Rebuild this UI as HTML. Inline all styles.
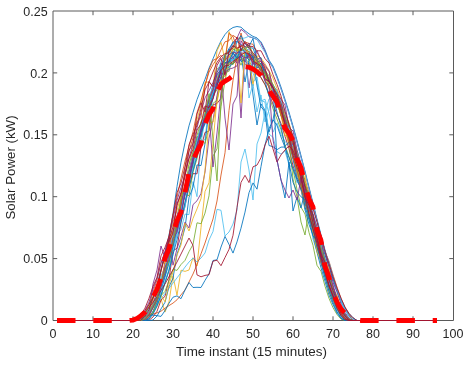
<!DOCTYPE html>
<html><head><meta charset="utf-8"><style>
html,body{margin:0;padding:0;background:#fff;}
svg{display:block;}
text{font-family:"Liberation Sans",Arial,sans-serif;font-size:12.5px;fill:#262626;}
.lab{font-size:13.45px;}
</style></head><body>
<svg width="471" height="367" viewBox="0 0 471 367">
<rect width="471" height="367" fill="#fff"/>
<g stroke="#5a5a5a" stroke-width="1" fill="none">
<path d="M53,320.5 V11 H453.5 V320.5 Z"/>
<line x1="93.0" y1="320.5" x2="93.0" y2="316.3"/>
<line x1="93.0" y1="11" x2="93.0" y2="15.2"/>
<line x1="133.0" y1="320.5" x2="133.0" y2="316.3"/>
<line x1="133.0" y1="11" x2="133.0" y2="15.2"/>
<line x1="173.0" y1="320.5" x2="173.0" y2="316.3"/>
<line x1="173.0" y1="11" x2="173.0" y2="15.2"/>
<line x1="213.0" y1="320.5" x2="213.0" y2="316.3"/>
<line x1="213.0" y1="11" x2="213.0" y2="15.2"/>
<line x1="253.0" y1="320.5" x2="253.0" y2="316.3"/>
<line x1="253.0" y1="11" x2="253.0" y2="15.2"/>
<line x1="293.0" y1="320.5" x2="293.0" y2="316.3"/>
<line x1="293.0" y1="11" x2="293.0" y2="15.2"/>
<line x1="333.0" y1="320.5" x2="333.0" y2="316.3"/>
<line x1="333.0" y1="11" x2="333.0" y2="15.2"/>
<line x1="373.0" y1="320.5" x2="373.0" y2="316.3"/>
<line x1="373.0" y1="11" x2="373.0" y2="15.2"/>
<line x1="413.0" y1="320.5" x2="413.0" y2="316.3"/>
<line x1="413.0" y1="11" x2="413.0" y2="15.2"/>
<line x1="53" y1="258.60" x2="57.2" y2="258.60"/>
<line x1="453.5" y1="258.60" x2="449.3" y2="258.60"/>
<line x1="53" y1="196.70" x2="57.2" y2="196.70"/>
<line x1="453.5" y1="196.70" x2="449.3" y2="196.70"/>
<line x1="53" y1="134.80" x2="57.2" y2="134.80"/>
<line x1="453.5" y1="134.80" x2="449.3" y2="134.80"/>
<line x1="53" y1="72.90" x2="57.2" y2="72.90"/>
<line x1="453.5" y1="72.90" x2="449.3" y2="72.90"/>
</g>
<g fill="none" stroke-width="1" stroke-linejoin="round" stroke-opacity="0.85">
<polyline points="57.0,320.5 61.0,320.5 65.0,320.5 69.0,320.5 73.0,320.5 77.0,320.5 81.0,320.5 85.0,320.5 89.0,320.5 93.0,320.5 97.0,320.5 101.0,320.5 105.0,320.5 109.0,320.5 113.0,320.5 117.0,320.5 121.0,320.5 125.0,320.5 129.0,320.5 133.0,320.5 137.0,320.5 141.0,319.5 145.0,314.3 149.0,307.5 153.0,297.8 157.0,284.6 161.0,269.3 165.0,252.8 169.0,235.1 173.0,213.5 177.0,186.6 181.0,162.2 185.0,142.6 189.0,125.8 193.0,112.5 197.0,99.6 201.0,89.0 205.0,79.3 209.0,68.2 213.0,58.8 217.0,49.3 221.0,40.9 225.0,34.5 229.0,30.1 233.0,27.5 237.0,26.5 241.0,27.2 245.0,30.8 249.0,33.8 253.0,36.4 257.0,37.9 261.0,41.9 265.0,49.9 269.0,60.1 273.0,66.1 277.0,76.1 281.0,87.2 285.0,99.3 289.0,112.2 293.0,126.0 297.0,140.5 301.0,155.6 305.0,171.2 309.0,187.1 313.0,203.1 317.0,219.1 321.0,234.8 325.0,250.0 329.0,264.5 333.0,278.0 337.0,290.3 341.0,301.0 345.0,309.7 349.0,316.1 353.0,319.8 357.0,320.5 361.0,320.5 365.0,320.5 369.0,320.5 373.0,320.5 377.0,320.5 381.0,320.5 385.0,320.5 389.0,320.5 393.0,320.5 397.0,320.5 401.0,320.5 405.0,320.5 409.0,320.5 413.0,320.5 417.0,320.5 421.0,320.5 425.0,320.5 429.0,320.5 433.0,320.5 437.0,320.5" stroke="#0072BD"/>
<polyline points="57.0,320.5 61.0,320.5 65.0,320.5 69.0,320.5 73.0,320.5 77.0,320.5 81.0,320.5 85.0,320.5 89.0,320.5 93.0,320.5 97.0,320.5 101.0,320.5 105.0,320.5 109.0,320.5 113.0,320.5 117.0,320.5 121.0,320.5 125.0,320.5 129.0,320.5 133.0,320.5 137.0,320.5 141.0,320.5 145.0,320.5 149.0,318.7 153.0,312.4 157.0,305.2 161.0,296.8 165.0,282.7 169.0,269.7 173.0,247.0 177.0,231.8 181.0,218.6 185.0,203.1 189.0,181.7 193.0,155.9 197.0,144.4 201.0,125.7 205.0,115.9 209.0,112.7 213.0,95.5 217.0,69.0 221.0,66.3 225.0,70.4 229.0,71.4 233.0,54.2 237.0,56.7 241.0,57.9 245.0,60.1 249.0,61.8 253.0,66.4 257.0,70.3 261.0,77.4 265.0,84.3 269.0,95.1 273.0,108.7 277.0,119.1 281.0,129.7 285.0,145.1 289.0,156.4 293.0,169.0 297.0,189.4 301.0,207.3 305.0,214.0 309.0,232.5 313.0,245.3 317.0,265.3 321.0,271.3 325.0,286.2 329.0,298.4 333.0,307.7 337.0,314.5 341.0,319.1 345.0,320.5 349.0,320.5 353.0,320.5 357.0,320.5 361.0,320.5 365.0,320.5 369.0,320.5 373.0,320.5 377.0,320.5 381.0,320.5 385.0,320.5 389.0,320.5 393.0,320.5 397.0,320.5 401.0,320.5 405.0,320.5 409.0,320.5 413.0,320.5 417.0,320.5 421.0,320.5 425.0,320.5 429.0,320.5 433.0,320.5 437.0,320.5" stroke="#77AC30"/>
<polyline points="57.0,320.5 61.0,320.5 65.0,320.5 69.0,320.5 73.0,320.5 77.0,320.5 81.0,320.5 85.0,320.5 89.0,320.5 93.0,320.5 97.0,320.5 101.0,320.5 105.0,320.5 109.0,320.5 113.0,320.5 117.0,320.5 121.0,320.5 125.0,320.5 129.0,320.5 133.0,320.5 137.0,320.5 141.0,320.5 145.0,318.8 149.0,317.3 153.0,313.1 157.0,306.7 161.0,298.8 165.0,312.1 169.0,301.7 173.0,275.9 177.0,295.3 181.0,270.2 185.0,271.4 189.0,270.0 193.0,257.7 197.0,265.9 201.0,227.6 205.0,191.5 209.0,182.8 213.0,143.3 217.0,98.4 221.0,76.2 225.0,76.5 229.0,67.7 233.0,61.4 237.0,59.0 241.0,57.3 245.0,64.6 249.0,64.0 253.0,62.2 257.0,69.0 261.0,70.3 265.0,79.7 269.0,81.2 273.0,91.1 277.0,98.3 281.0,110.6 285.0,125.1 289.0,139.0 293.0,147.5 297.0,164.0 301.0,181.9 305.0,193.4 309.0,204.1 313.0,218.6 317.0,235.7 321.0,249.8 325.0,267.5 329.0,280.4 333.0,293.2 337.0,303.2 341.0,310.8 345.0,317.2 349.0,320.3 353.0,320.5 357.0,320.5 361.0,320.5 365.0,320.5 369.0,320.5 373.0,320.5 377.0,320.5 381.0,320.5 385.0,320.5 389.0,320.5 393.0,320.5 397.0,320.5 401.0,320.5 405.0,320.5 409.0,320.5 413.0,320.5 417.0,320.5 421.0,320.5 425.0,320.5 429.0,320.5 433.0,320.5 437.0,320.5" stroke="#EDB120"/>
<polyline points="57.0,320.5 61.0,320.5 65.0,320.5 69.0,320.5 73.0,320.5 77.0,320.5 81.0,320.5 85.0,320.5 89.0,320.5 93.0,320.5 97.0,320.5 101.0,320.5 105.0,320.5 109.0,320.5 113.0,320.5 117.0,320.5 121.0,320.5 125.0,320.5 129.0,320.5 133.0,320.5 137.0,320.5 141.0,318.7 145.0,316.5 149.0,308.7 153.0,305.4 157.0,302.2 161.0,275.0 165.0,268.9 169.0,248.4 173.0,250.0 177.0,234.8 181.0,229.5 185.0,214.1 189.0,214.6 193.0,181.6 197.0,196.7 201.0,143.7 205.0,138.8 209.0,104.7 213.0,83.7 217.0,72.8 221.0,61.5 225.0,54.1 229.0,51.5 233.0,53.1 237.0,49.8 241.0,54.9 245.0,52.0 249.0,53.3 253.0,57.2 257.0,60.7 261.0,67.0 265.0,79.8 269.0,78.6 273.0,87.8 277.0,91.5 281.0,107.5 285.0,122.1 289.0,132.3 293.0,147.3 297.0,164.5 301.0,181.2 305.0,200.9 309.0,211.1 313.0,222.9 317.0,247.4 321.0,260.0 325.0,271.5 329.0,285.5 333.0,297.1 337.0,307.9 341.0,314.7 345.0,319.2 349.0,320.5 353.0,320.5 357.0,320.5 361.0,320.5 365.0,320.5 369.0,320.5 373.0,320.5 377.0,320.5 381.0,320.5 385.0,320.5 389.0,320.5 393.0,320.5 397.0,320.5 401.0,320.5 405.0,320.5 409.0,320.5 413.0,320.5 417.0,320.5 421.0,320.5 425.0,320.5 429.0,320.5 433.0,320.5 437.0,320.5" stroke="#4DBEEE"/>
<polyline points="57.0,320.5 61.0,320.5 65.0,320.5 69.0,320.5 73.0,320.5 77.0,320.5 81.0,320.5 85.0,320.5 89.0,320.5 93.0,320.5 97.0,320.5 101.0,320.5 105.0,320.5 109.0,320.5 113.0,320.5 117.0,320.5 121.0,320.5 125.0,320.5 129.0,320.5 133.0,320.5 137.0,320.5 141.0,320.5 145.0,320.5 149.0,320.2 153.0,317.0 157.0,311.3 161.0,300.1 165.0,296.3 169.0,279.4 173.0,250.7 177.0,248.3 181.0,222.5 185.0,205.8 189.0,186.7 193.0,173.6 197.0,173.8 201.0,147.4 205.0,132.4 209.0,131.2 213.0,104.8 217.0,103.5 221.0,98.4 225.0,63.4 229.0,60.3 233.0,64.0 237.0,60.2 241.0,59.7 245.0,61.2 249.0,64.1 253.0,67.4 257.0,73.2 261.0,77.8 265.0,84.7 269.0,93.2 273.0,104.3 277.0,114.3 281.0,123.4 285.0,136.4 289.0,148.7 293.0,165.7 297.0,179.4 301.0,189.1 305.0,203.5 309.0,216.0 313.0,231.6 317.0,246.7 321.0,260.7 325.0,275.6 329.0,284.6 333.0,296.7 337.0,305.2 341.0,312.7 345.0,317.8 349.0,320.3 353.0,320.5 357.0,320.5 361.0,320.5 365.0,320.5 369.0,320.5 373.0,320.5 377.0,320.5 381.0,320.5 385.0,320.5 389.0,320.5 393.0,320.5 397.0,320.5 401.0,320.5 405.0,320.5 409.0,320.5 413.0,320.5 417.0,320.5 421.0,320.5 425.0,320.5 429.0,320.5 433.0,320.5 437.0,320.5" stroke="#A2142F"/>
<polyline points="57.0,320.5 61.0,320.5 65.0,320.5 69.0,320.5 73.0,320.5 77.0,320.5 81.0,320.5 85.0,320.5 89.0,320.5 93.0,320.5 97.0,320.5 101.0,320.5 105.0,320.5 109.0,320.5 113.0,320.5 117.0,320.5 121.0,320.5 125.0,320.5 129.0,320.5 133.0,320.5 137.0,320.5 141.0,320.5 145.0,319.3 149.0,315.3 153.0,306.9 157.0,296.0 161.0,285.5 165.0,275.2 169.0,256.2 173.0,238.7 177.0,223.3 181.0,205.0 185.0,186.1 189.0,175.8 193.0,161.6 197.0,147.5 201.0,130.4 205.0,117.4 209.0,105.7 213.0,90.9 217.0,74.6 221.0,76.1 225.0,67.6 229.0,61.5 233.0,59.9 237.0,49.8 241.0,53.6 245.0,82.0 249.0,60.9 253.0,95.0 257.0,125.0 261.0,104.0 265.0,110.0 269.0,132.0 273.0,120.0 277.0,95.9 281.0,112.0 285.0,116.5 289.0,134.1 293.0,145.1 297.0,159.1 301.0,174.6 305.0,194.5 309.0,206.5 313.0,222.7 317.0,234.4 321.0,256.7 325.0,265.3 329.0,280.5 333.0,293.6 337.0,302.1 341.0,311.8 345.0,317.9 349.0,320.4 353.0,320.5 357.0,320.5 361.0,320.5 365.0,320.5 369.0,320.5 373.0,320.5 377.0,320.5 381.0,320.5 385.0,320.5 389.0,320.5 393.0,320.5 397.0,320.5 401.0,320.5 405.0,320.5 409.0,320.5 413.0,320.5 417.0,320.5 421.0,320.5 425.0,320.5 429.0,320.5 433.0,320.5 437.0,320.5" stroke="#0072BD"/>
<polyline points="57.0,320.5 61.0,320.5 65.0,320.5 69.0,320.5 73.0,320.5 77.0,320.5 81.0,320.5 85.0,320.5 89.0,320.5 93.0,320.5 97.0,320.5 101.0,320.5 105.0,320.5 109.0,320.5 113.0,320.5 117.0,320.5 121.0,320.5 125.0,320.5 129.0,320.5 133.0,320.5 137.0,320.5 141.0,317.8 145.0,315.0 149.0,311.9 153.0,307.6 157.0,303.2 161.0,298.7 165.0,293.5 169.0,288.3 173.0,283.1 177.0,277.9 181.0,272.6 185.0,267.1 189.0,262.0 193.0,258.0 197.0,262.0 201.0,258.0 205.0,253.0 209.0,240.0 213.0,231.5 217.0,209.3 221.0,210.3 225.0,236.0 229.0,232.0 233.0,224.0 237.0,210.0 241.0,162.0 245.0,149.0 249.0,170.0 253.0,200.0 257.0,144.0 261.0,133.0 265.0,112.0 269.0,99.0 273.0,96.0 277.0,100.0 281.0,112.0 285.0,123.5 289.0,135.0 293.0,147.0 297.0,160.0 301.0,173.3 305.0,186.7 309.0,200.0 313.0,213.3 317.0,226.7 321.0,240.5 325.0,254.5 329.0,268.5 333.0,281.0 337.0,292.5 341.0,302.5 345.0,309.5 349.0,314.9 353.0,318.6 357.0,320.5 361.0,320.5 365.0,320.5 369.0,320.5 373.0,320.5 377.0,320.5 381.0,320.5 385.0,320.5 389.0,320.5 393.0,320.5 397.0,320.5 401.0,320.5 405.0,320.5 409.0,320.5 413.0,320.5 417.0,320.5 421.0,320.5 425.0,320.5 429.0,320.5 433.0,320.5 437.0,320.5" stroke="#4DBEEE"/>
<polyline points="57.0,320.5 61.0,320.5 65.0,320.5 69.0,320.5 73.0,320.5 77.0,320.5 81.0,320.5 85.0,320.5 89.0,320.5 93.0,320.5 97.0,320.5 101.0,320.5 105.0,320.5 109.0,320.5 113.0,320.5 117.0,320.5 121.0,320.5 125.0,320.5 129.0,320.5 133.0,320.5 137.0,320.5 141.0,320.5 145.0,320.5 149.0,319.0 153.0,314.0 157.0,305.5 161.0,295.3 165.0,281.6 169.0,269.9 173.0,255.0 177.0,231.4 181.0,217.9 185.0,207.2 189.0,182.0 193.0,167.9 197.0,151.7 201.0,131.8 205.0,124.6 209.0,101.8 213.0,92.9 217.0,84.7 221.0,78.5 225.0,59.1 229.0,61.0 233.0,60.5 237.0,53.5 241.0,50.6 245.0,50.6 249.0,49.0 253.0,73.1 257.0,83.1 261.0,100.5 265.0,102.1 269.0,134.1 273.0,137.2 277.0,151.7 281.0,154.1 285.0,150.9 289.0,165.0 293.0,167.7 297.0,182.8 301.0,181.8 305.0,209.0 309.0,214.4 313.0,239.3 317.0,251.4 321.0,263.0 325.0,277.1 329.0,290.0 333.0,301.1 337.0,310.2 341.0,316.7 345.0,320.2 349.0,320.5 353.0,320.5 357.0,320.5 361.0,320.5 365.0,320.5 369.0,320.5 373.0,320.5 377.0,320.5 381.0,320.5 385.0,320.5 389.0,320.5 393.0,320.5 397.0,320.5 401.0,320.5 405.0,320.5 409.0,320.5 413.0,320.5 417.0,320.5 421.0,320.5 425.0,320.5 429.0,320.5 433.0,320.5 437.0,320.5" stroke="#4DBEEE"/>
<polyline points="57.0,320.5 61.0,320.5 65.0,320.5 69.0,320.5 73.0,320.5 77.0,320.5 81.0,320.5 85.0,320.5 89.0,320.5 93.0,320.5 97.0,320.5 101.0,320.5 105.0,320.5 109.0,320.5 113.0,320.5 117.0,320.5 121.0,320.5 125.0,320.5 129.0,320.5 133.0,320.5 137.0,320.5 141.0,319.1 145.0,317.3 149.0,315.5 153.0,314.1 157.0,312.9 161.0,311.2 165.0,308.2 169.0,305.6 173.0,303.1 177.0,299.8 181.0,294.9 185.0,290.0 189.0,282.0 193.0,274.0 197.0,264.6 201.0,253.8 205.0,243.0 209.0,231.0 213.0,219.0 217.0,201.0 221.0,175.0 225.0,152.8 229.0,110.5 233.0,80.3 237.0,56.6 241.0,33.0 245.0,50.0 249.0,51.6 253.0,55.0 257.0,59.3 261.0,64.7 265.0,72.0 269.0,80.3 273.0,89.7 277.0,99.5 281.0,109.7 285.0,120.3 289.0,131.5 293.0,143.0 297.0,155.0 301.0,167.5 305.0,180.2 309.0,192.8 313.0,206.0 317.0,220.6 321.0,236.3 325.0,251.5 329.0,261.3 333.0,274.7 337.0,287.0 341.0,298.3 345.0,307.7 349.0,314.5 353.0,320.5 357.0,320.5 361.0,320.5 365.0,320.5 369.0,320.5 373.0,320.5 377.0,320.5 381.0,320.5 385.0,320.5 389.0,320.5 393.0,320.5 397.0,320.5 401.0,320.5 405.0,320.5 409.0,320.5 413.0,320.5 417.0,320.5 421.0,320.5 425.0,320.5 429.0,320.5 433.0,320.5 437.0,320.5" stroke="#D95319"/>
<polyline points="57.0,320.5 61.0,320.5 65.0,320.5 69.0,320.5 73.0,320.5 77.0,320.5 81.0,320.5 85.0,320.5 89.0,320.5 93.0,320.5 97.0,320.5 101.0,320.5 105.0,320.5 109.0,320.5 113.0,320.5 117.0,320.5 121.0,320.5 125.0,320.5 129.0,320.5 133.0,320.5 137.0,320.5 141.0,320.5 145.0,318.5 149.0,313.7 153.0,306.7 157.0,299.1 161.0,283.4 165.0,271.9 169.0,258.1 173.0,234.3 177.0,223.0 181.0,213.4 185.0,191.3 189.0,183.6 193.0,164.6 197.0,144.0 201.0,137.7 205.0,119.5 209.0,106.9 213.0,95.3 217.0,89.7 221.0,82.8 225.0,70.5 229.0,62.6 233.0,64.7 237.0,55.7 241.0,53.9 245.0,57.3 249.0,55.9 253.0,58.4 257.0,60.9 261.0,69.0 265.0,74.5 269.0,81.1 273.0,85.9 277.0,101.3 281.0,104.0 285.0,124.1 289.0,140.0 293.0,179.0 297.0,197.0 301.0,222.0 305.0,235.0 309.0,208.8 313.0,219.0 317.0,232.3 321.0,246.1 325.0,259.5 329.0,274.8 333.0,287.6 337.0,297.1 341.0,308.7 345.0,314.7 349.0,319.0 353.0,320.5 357.0,320.5 361.0,320.5 365.0,320.5 369.0,320.5 373.0,320.5 377.0,320.5 381.0,320.5 385.0,320.5 389.0,320.5 393.0,320.5 397.0,320.5 401.0,320.5 405.0,320.5 409.0,320.5 413.0,320.5 417.0,320.5 421.0,320.5 425.0,320.5 429.0,320.5 433.0,320.5 437.0,320.5" stroke="#77AC30"/>
<polyline points="57.0,320.5 61.0,320.5 65.0,320.5 69.0,320.5 73.0,320.5 77.0,320.5 81.0,320.5 85.0,320.5 89.0,320.5 93.0,320.5 97.0,320.5 101.0,320.5 105.0,320.5 109.0,320.5 113.0,320.5 117.0,320.5 121.0,320.5 125.0,320.5 129.0,320.5 133.0,320.5 137.0,320.5 141.0,320.5 145.0,320.5 149.0,320.5 153.0,320.0 157.0,316.0 161.0,308.9 165.0,302.3 169.0,286.8 173.0,278.2 177.0,254.0 181.0,242.5 185.0,227.6 189.0,197.5 193.0,187.2 197.0,164.9 201.0,165.6 205.0,143.7 209.0,111.2 213.0,92.3 217.0,88.2 221.0,63.2 225.0,73.7 229.0,48.8 233.0,54.8 237.0,41.4 241.0,44.6 245.0,46.6 249.0,47.8 253.0,48.0 257.0,59.7 261.0,65.4 265.0,69.6 269.0,82.0 273.0,87.5 277.0,102.4 281.0,115.2 285.0,128.2 289.0,139.4 293.0,156.9 297.0,172.9 301.0,189.5 305.0,209.8 309.0,224.5 313.0,235.2 317.0,252.2 321.0,267.8 325.0,281.4 329.0,295.0 333.0,304.6 337.0,313.1 341.0,318.3 345.0,320.5 349.0,320.5 353.0,320.5 357.0,320.5 361.0,320.5 365.0,320.5 369.0,320.5 373.0,320.5 377.0,320.5 381.0,320.5 385.0,320.5 389.0,320.5 393.0,320.5 397.0,320.5 401.0,320.5 405.0,320.5 409.0,320.5 413.0,320.5 417.0,320.5 421.0,320.5 425.0,320.5 429.0,320.5 433.0,320.5 437.0,320.5" stroke="#0072BD"/>
<polyline points="57.0,320.5 61.0,320.5 65.0,320.5 69.0,320.5 73.0,320.5 77.0,320.5 81.0,320.5 85.0,320.5 89.0,320.5 93.0,320.5 97.0,320.5 101.0,320.5 105.0,320.5 109.0,320.5 113.0,320.5 117.0,320.5 121.0,320.5 125.0,320.5 129.0,320.5 133.0,320.5 137.0,320.5 141.0,320.4 145.0,317.9 149.0,312.0 153.0,302.6 157.0,294.3 161.0,280.8 165.0,270.4 169.0,257.0 173.0,238.8 177.0,215.5 181.0,201.4 185.0,188.7 189.0,171.5 193.0,153.5 197.0,140.8 201.0,127.6 205.0,113.6 209.0,97.8 213.0,90.6 217.0,76.4 221.0,78.0 225.0,67.1 229.0,60.7 233.0,53.4 237.0,57.2 241.0,118.0 245.0,53.0 249.0,88.0 253.0,61.0 257.0,63.5 261.0,70.6 265.0,70.2 269.0,78.8 273.0,85.6 277.0,90.5 281.0,104.2 285.0,118.5 289.0,133.1 293.0,138.4 297.0,159.0 301.0,175.3 305.0,184.6 309.0,203.0 313.0,220.8 317.0,233.3 321.0,242.4 325.0,263.4 329.0,276.2 333.0,291.0 337.0,300.6 341.0,308.3 345.0,315.6 349.0,319.6 353.0,320.5 357.0,320.5 361.0,320.5 365.0,320.5 369.0,320.5 373.0,320.5 377.0,320.5 381.0,320.5 385.0,320.5 389.0,320.5 393.0,320.5 397.0,320.5 401.0,320.5 405.0,320.5 409.0,320.5 413.0,320.5 417.0,320.5 421.0,320.5 425.0,320.5 429.0,320.5 433.0,320.5 437.0,320.5" stroke="#7E2F8E"/>
<polyline points="57.0,320.5 61.0,320.5 65.0,320.5 69.0,320.5 73.0,320.5 77.0,320.5 81.0,320.5 85.0,320.5 89.0,320.5 93.0,320.5 97.0,320.5 101.0,320.5 105.0,320.5 109.0,320.5 113.0,320.5 117.0,320.5 121.0,320.5 125.0,320.5 129.0,320.5 133.0,320.5 137.0,320.5 141.0,319.9 145.0,317.6 149.0,313.1 153.0,284.0 157.0,270.0 161.0,246.0 165.0,258.0 169.0,236.6 173.0,265.2 177.0,248.7 181.0,236.4 185.0,222.2 189.0,228.0 193.0,204.6 197.0,200.8 201.0,193.5 205.0,172.0 209.0,138.2 213.0,120.3 217.0,95.5 221.0,76.0 225.0,62.7 229.0,63.6 233.0,57.2 237.0,63.1 241.0,52.8 245.0,53.4 249.0,58.2 253.0,59.6 257.0,71.5 261.0,69.0 265.0,73.1 269.0,81.5 273.0,88.5 277.0,102.0 281.0,105.1 285.0,122.8 289.0,134.2 293.0,146.6 297.0,167.9 301.0,184.0 305.0,192.0 309.0,214.6 313.0,227.5 317.0,238.6 321.0,257.9 325.0,271.2 329.0,284.2 333.0,295.3 337.0,303.5 341.0,312.3 345.0,317.8 349.0,320.4 353.0,320.5 357.0,320.5 361.0,320.5 365.0,320.5 369.0,320.5 373.0,320.5 377.0,320.5 381.0,320.5 385.0,320.5 389.0,320.5 393.0,320.5 397.0,320.5 401.0,320.5 405.0,320.5 409.0,320.5 413.0,320.5 417.0,320.5 421.0,320.5 425.0,320.5 429.0,320.5 433.0,320.5 437.0,320.5" stroke="#7E2F8E"/>
<polyline points="57.0,320.5 61.0,320.5 65.0,320.5 69.0,320.5 73.0,320.5 77.0,320.5 81.0,320.5 85.0,320.5 89.0,320.5 93.0,320.5 97.0,320.5 101.0,320.5 105.0,320.5 109.0,320.5 113.0,320.5 117.0,320.5 121.0,320.5 125.0,320.5 129.0,320.5 133.0,320.5 137.0,320.5 141.0,319.3 145.0,314.4 149.0,306.7 153.0,296.2 157.0,292.3 161.0,269.4 165.0,258.1 169.0,236.6 173.0,231.8 177.0,219.9 181.0,209.8 185.0,193.9 189.0,195.8 193.0,172.0 197.0,158.7 201.0,139.7 205.0,143.6 209.0,127.6 213.0,103.4 217.0,100.2 221.0,83.1 225.0,71.5 229.0,59.6 233.0,49.3 237.0,50.5 241.0,49.7 245.0,46.5 249.0,52.6 253.0,58.6 257.0,63.2 261.0,64.3 265.0,70.2 269.0,75.9 273.0,90.9 277.0,95.2 281.0,113.1 285.0,125.2 289.0,140.0 293.0,150.3 297.0,163.3 301.0,182.7 305.0,200.1 309.0,219.0 313.0,229.7 317.0,246.3 321.0,260.8 325.0,275.4 329.0,288.2 333.0,299.0 337.0,307.9 341.0,315.0 345.0,319.5 349.0,320.5 353.0,320.5 357.0,320.5 361.0,320.5 365.0,320.5 369.0,320.5 373.0,320.5 377.0,320.5 381.0,320.5 385.0,320.5 389.0,320.5 393.0,320.5 397.0,320.5 401.0,320.5 405.0,320.5 409.0,320.5 413.0,320.5 417.0,320.5 421.0,320.5 425.0,320.5 429.0,320.5 433.0,320.5 437.0,320.5" stroke="#77AC30"/>
<polyline points="57.0,320.5 61.0,320.5 65.0,320.5 69.0,320.5 73.0,320.5 77.0,320.5 81.0,320.5 85.0,320.5 89.0,320.5 93.0,320.5 97.0,320.5 101.0,320.5 105.0,320.5 109.0,320.5 113.0,320.5 117.0,320.5 121.0,320.5 125.0,320.5 129.0,320.5 133.0,320.5 137.0,320.5 141.0,319.6 145.0,316.4 149.0,312.1 153.0,300.7 157.0,286.9 161.0,295.4 165.0,301.8 169.0,284.6 173.0,272.1 177.0,255.2 181.0,244.9 185.0,223.2 189.0,231.0 193.0,218.4 197.0,208.9 201.0,198.6 205.0,170.3 209.0,122.1 213.0,122.3 217.0,103.2 221.0,77.9 225.0,58.2 229.0,55.0 233.0,51.6 237.0,54.4 241.0,52.9 245.0,54.5 249.0,54.0 253.0,56.4 257.0,63.5 261.0,72.0 265.0,75.6 269.0,88.5 273.0,90.4 277.0,103.4 281.0,115.2 285.0,135.9 289.0,134.3 293.0,150.2 297.0,165.5 301.0,184.8 305.0,198.2 309.0,209.9 313.0,233.4 317.0,245.0 321.0,260.1 325.0,274.7 329.0,287.1 333.0,299.2 337.0,307.6 341.0,315.1 345.0,319.2 349.0,320.5 353.0,320.5 357.0,320.5 361.0,320.5 365.0,320.5 369.0,320.5 373.0,320.5 377.0,320.5 381.0,320.5 385.0,320.5 389.0,320.5 393.0,320.5 397.0,320.5 401.0,320.5 405.0,320.5 409.0,320.5 413.0,320.5 417.0,320.5 421.0,320.5 425.0,320.5 429.0,320.5 433.0,320.5 437.0,320.5" stroke="#EDB120"/>
<polyline points="57.0,320.5 61.0,320.5 65.0,320.5 69.0,320.5 73.0,320.5 77.0,320.5 81.0,320.5 85.0,320.5 89.0,320.5 93.0,320.5 97.0,320.5 101.0,320.5 105.0,320.5 109.0,320.5 113.0,320.5 117.0,320.5 121.0,320.5 125.0,320.5 129.0,320.5 133.0,320.5 137.0,320.5 141.0,320.5 145.0,319.7 149.0,314.9 153.0,305.8 157.0,295.0 161.0,279.1 165.0,264.7 169.0,247.5 173.0,221.9 177.0,210.7 181.0,195.1 185.0,173.1 189.0,164.6 193.0,143.7 197.0,119.8 201.0,104.8 205.0,82.3 209.0,82.0 213.0,87.0 217.0,50.8 221.0,42.4 225.0,59.8 229.0,31.6 233.0,42.5 237.0,50.5 241.0,45.3 245.0,47.4 249.0,43.8 253.0,55.5 257.0,59.2 261.0,65.8 265.0,73.9 269.0,84.4 273.0,91.0 277.0,99.4 281.0,112.9 285.0,130.7 289.0,145.2 293.0,155.8 297.0,173.4 301.0,188.6 305.0,207.6 309.0,212.1 313.0,230.9 317.0,251.9 321.0,260.8 325.0,274.1 329.0,292.5 333.0,300.8 337.0,309.4 341.0,315.7 345.0,319.7 349.0,320.5 353.0,320.5 357.0,320.5 361.0,320.5 365.0,320.5 369.0,320.5 373.0,320.5 377.0,320.5 381.0,320.5 385.0,320.5 389.0,320.5 393.0,320.5 397.0,320.5 401.0,320.5 405.0,320.5 409.0,320.5 413.0,320.5 417.0,320.5 421.0,320.5 425.0,320.5 429.0,320.5 433.0,320.5 437.0,320.5" stroke="#EDB120"/>
<polyline points="57.0,320.5 61.0,320.5 65.0,320.5 69.0,320.5 73.0,320.5 77.0,320.5 81.0,320.5 85.0,320.5 89.0,320.5 93.0,320.5 97.0,320.5 101.0,320.5 105.0,320.5 109.0,320.5 113.0,320.5 117.0,320.5 121.0,320.5 125.0,320.5 129.0,320.5 133.0,320.5 137.0,320.5 141.0,320.5 145.0,320.3 149.0,317.4 153.0,311.2 157.0,302.3 161.0,291.8 165.0,277.5 169.0,263.7 173.0,246.8 177.0,233.4 181.0,218.6 185.0,205.3 189.0,177.3 193.0,168.7 197.0,154.5 201.0,142.9 205.0,119.1 209.0,113.1 213.0,95.7 217.0,84.2 221.0,70.8 225.0,71.1 229.0,69.6 233.0,54.7 237.0,54.4 241.0,56.8 245.0,54.9 249.0,60.2 253.0,82.3 257.0,77.0 261.0,101.1 265.0,99.2 269.0,113.3 273.0,132.2 277.0,122.9 281.0,134.4 285.0,141.6 289.0,145.0 293.0,145.4 297.0,158.3 301.0,166.3 305.0,191.4 309.0,207.0 313.0,222.7 317.0,238.2 321.0,253.3 325.0,267.6 329.0,281.0 333.0,293.1 337.0,303.5 341.0,311.8 345.0,317.6 349.0,320.4 353.0,320.5 357.0,320.5 361.0,320.5 365.0,320.5 369.0,320.5 373.0,320.5 377.0,320.5 381.0,320.5 385.0,320.5 389.0,320.5 393.0,320.5 397.0,320.5 401.0,320.5 405.0,320.5 409.0,320.5 413.0,320.5 417.0,320.5 421.0,320.5 425.0,320.5 429.0,320.5 433.0,320.5 437.0,320.5" stroke="#4DBEEE"/>
<polyline points="57.0,320.5 61.0,320.5 65.0,320.5 69.0,320.5 73.0,320.5 77.0,320.5 81.0,320.5 85.0,320.5 89.0,320.5 93.0,320.5 97.0,320.5 101.0,320.5 105.0,320.5 109.0,320.5 113.0,320.5 117.0,320.5 121.0,320.5 125.0,320.5 129.0,320.5 133.0,320.5 137.0,320.5 141.0,318.3 145.0,312.9 149.0,304.5 153.0,292.4 157.0,280.1 161.0,262.6 165.0,252.9 169.0,236.6 173.0,215.0 177.0,197.3 181.0,178.2 185.0,161.1 189.0,146.6 193.0,131.8 197.0,112.5 201.0,100.5 205.0,85.0 209.0,72.2 213.0,64.7 217.0,58.6 221.0,49.8 225.0,41.8 229.0,40.7 233.0,35.4 237.0,38.0 241.0,38.5 245.0,42.0 249.0,43.4 253.0,44.3 257.0,52.8 261.0,58.8 265.0,67.2 269.0,71.6 273.0,86.8 277.0,95.1 281.0,102.8 285.0,113.9 289.0,131.3 293.0,142.3 297.0,164.2 301.0,172.5 305.0,189.1 309.0,208.4 313.0,225.4 317.0,237.5 321.0,250.5 325.0,264.6 329.0,278.5 333.0,289.8 337.0,300.7 341.0,310.4 345.0,316.3 349.0,319.9 353.0,320.5 357.0,320.5 361.0,320.5 365.0,320.5 369.0,320.5 373.0,320.5 377.0,320.5 381.0,320.5 385.0,320.5 389.0,320.5 393.0,320.5 397.0,320.5 401.0,320.5 405.0,320.5 409.0,320.5 413.0,320.5 417.0,320.5 421.0,320.5 425.0,320.5 429.0,320.5 433.0,320.5 437.0,320.5" stroke="#D95319"/>
<polyline points="57.0,320.5 61.0,320.5 65.0,320.5 69.0,320.5 73.0,320.5 77.0,320.5 81.0,320.5 85.0,320.5 89.0,320.5 93.0,320.5 97.0,320.5 101.0,320.5 105.0,320.5 109.0,320.5 113.0,320.5 117.0,320.5 121.0,320.5 125.0,320.5 129.0,320.5 133.0,320.5 137.0,320.5 141.0,320.5 145.0,318.3 149.0,312.4 153.0,304.5 157.0,293.7 161.0,283.2 165.0,269.0 169.0,253.1 173.0,237.9 177.0,225.4 181.0,208.5 185.0,194.7 189.0,171.9 193.0,155.0 197.0,136.8 201.0,137.1 205.0,113.0 209.0,101.6 213.0,85.3 217.0,84.4 221.0,77.1 225.0,66.5 229.0,67.3 233.0,63.3 237.0,53.8 241.0,61.6 245.0,60.1 249.0,52.9 253.0,57.6 257.0,68.1 261.0,62.8 265.0,73.5 269.0,82.0 273.0,88.3 277.0,160.0 281.0,180.0 285.0,198.0 289.0,162.0 293.0,211.0 297.0,197.0 301.0,208.0 305.0,191.1 309.0,210.0 313.0,214.6 317.0,232.7 321.0,248.3 325.0,264.8 329.0,276.6 333.0,287.5 337.0,299.8 341.0,307.4 345.0,313.9 349.0,319.1 353.0,320.5 357.0,320.5 361.0,320.5 365.0,320.5 369.0,320.5 373.0,320.5 377.0,320.5 381.0,320.5 385.0,320.5 389.0,320.5 393.0,320.5 397.0,320.5 401.0,320.5 405.0,320.5 409.0,320.5 413.0,320.5 417.0,320.5 421.0,320.5 425.0,320.5 429.0,320.5 433.0,320.5 437.0,320.5" stroke="#0072BD"/>
<polyline points="57.0,320.5 61.0,320.5 65.0,320.5 69.0,320.5 73.0,320.5 77.0,320.5 81.0,320.5 85.0,320.5 89.0,320.5 93.0,320.5 97.0,320.5 101.0,320.5 105.0,320.5 109.0,320.5 113.0,320.5 117.0,320.5 121.0,320.5 125.0,320.5 129.0,320.5 133.0,320.5 137.0,319.9 141.0,318.5 145.0,316.5 149.0,315.1 153.0,315.1 157.0,315.7 161.0,316.4 165.0,310.6 169.0,303.2 173.0,297.2 177.0,295.9 181.0,298.7 185.0,290.0 189.0,282.5 193.0,287.5 197.0,287.3 201.0,287.5 205.0,280.4 209.0,273.9 213.0,260.5 217.0,259.8 221.0,247.0 225.0,236.4 229.0,244.4 233.0,253.1 237.0,241.9 241.0,228.2 245.0,212.1 249.0,192.7 253.0,182.9 257.0,189.2 261.0,166.5 265.0,145.0 269.0,128.8 273.0,119.8 277.0,125.5 281.0,137.0 285.0,147.5 289.0,157.5 293.0,169.0 297.0,179.5 301.0,189.5 305.0,198.0 309.0,207.5 313.0,217.5 317.0,229.0 321.0,242.5 325.0,255.0 329.0,267.0 333.0,279.0 337.0,289.5 341.0,299.5 345.0,308.0 349.0,313.6 353.0,317.8 357.0,320.5 361.0,320.5 365.0,320.5 369.0,320.5 373.0,320.5 377.0,320.5 381.0,320.5 385.0,320.5 389.0,320.5 393.0,320.5 397.0,320.5 401.0,320.5 405.0,320.5 409.0,320.5 413.0,320.5 417.0,320.5 421.0,320.5 425.0,320.5 429.0,320.5 433.0,320.5 437.0,320.5" stroke="#0072BD"/>
<polyline points="57.0,320.5 61.0,320.5 65.0,320.5 69.0,320.5 73.0,320.5 77.0,320.5 81.0,320.5 85.0,320.5 89.0,320.5 93.0,320.5 97.0,320.5 101.0,320.5 105.0,320.5 109.0,320.5 113.0,320.5 117.0,320.5 121.0,320.5 125.0,320.5 129.0,320.5 133.0,320.5 137.0,320.5 141.0,320.4 145.0,317.9 149.0,312.6 153.0,305.1 157.0,296.1 161.0,284.1 165.0,269.2 169.0,251.6 173.0,238.1 177.0,227.1 181.0,209.1 185.0,191.3 189.0,175.3 193.0,158.6 197.0,141.1 201.0,127.2 205.0,115.0 209.0,104.4 213.0,87.8 217.0,79.5 221.0,65.4 225.0,55.2 229.0,51.6 233.0,42.4 237.0,38.1 241.0,29.3 245.0,32.3 249.0,36.8 253.0,37.9 257.0,39.4 261.0,43.4 265.0,51.4 269.0,61.6 273.0,67.6 277.0,77.6 281.0,88.7 285.0,100.8 289.0,113.7 293.0,127.5 297.0,142.0 301.0,157.1 305.0,172.7 309.0,188.6 313.0,204.6 317.0,220.6 321.0,236.3 325.0,251.5 329.0,267.6 333.0,282.3 337.0,291.6 341.0,304.1 345.0,312.4 349.0,318.2 353.0,320.5 357.0,320.5 361.0,320.5 365.0,320.5 369.0,320.5 373.0,320.5 377.0,320.5 381.0,320.5 385.0,320.5 389.0,320.5 393.0,320.5 397.0,320.5 401.0,320.5 405.0,320.5 409.0,320.5 413.0,320.5 417.0,320.5 421.0,320.5 425.0,320.5 429.0,320.5 433.0,320.5 437.0,320.5" stroke="#7E2F8E"/>
<polyline points="57.0,320.5 61.0,320.5 65.0,320.5 69.0,320.5 73.0,320.5 77.0,320.5 81.0,320.5 85.0,320.5 89.0,320.5 93.0,320.5 97.0,320.5 101.0,320.5 105.0,320.5 109.0,320.5 113.0,320.5 117.0,320.5 121.0,320.5 125.0,320.5 129.0,320.5 133.0,320.5 137.0,320.5 141.0,320.2 145.0,317.2 149.0,311.9 153.0,303.9 157.0,293.9 161.0,278.3 165.0,266.3 169.0,256.6 173.0,233.5 177.0,219.0 181.0,208.8 185.0,194.9 189.0,171.4 193.0,159.3 197.0,142.7 201.0,128.9 205.0,110.4 209.0,96.7 213.0,86.2 217.0,77.5 221.0,66.7 225.0,57.4 229.0,55.7 233.0,43.1 237.0,42.8 241.0,38.7 245.0,37.9 249.0,36.2 253.0,37.9 257.0,39.4 261.0,46.3 265.0,52.4 269.0,61.6 273.0,67.6 277.0,77.6 281.0,88.7 285.0,100.8 289.0,113.7 293.0,127.5 297.0,142.0 301.0,157.1 305.0,172.7 309.0,188.6 313.0,204.6 317.0,220.6 321.0,236.3 325.0,251.5 329.0,261.9 333.0,275.8 337.0,289.2 341.0,299.8 345.0,309.7 349.0,316.8 353.0,320.2 357.0,320.5 361.0,320.5 365.0,320.5 369.0,320.5 373.0,320.5 377.0,320.5 381.0,320.5 385.0,320.5 389.0,320.5 393.0,320.5 397.0,320.5 401.0,320.5 405.0,320.5 409.0,320.5 413.0,320.5 417.0,320.5 421.0,320.5 425.0,320.5 429.0,320.5 433.0,320.5 437.0,320.5" stroke="#4DBEEE"/>
<polyline points="57.0,320.5 61.0,320.5 65.0,320.5 69.0,320.5 73.0,320.5 77.0,320.5 81.0,320.5 85.0,320.5 89.0,320.5 93.0,320.5 97.0,320.5 101.0,320.5 105.0,320.5 109.0,320.5 113.0,320.5 117.0,320.5 121.0,320.5 125.0,320.5 129.0,320.5 133.0,320.5 137.0,320.5 141.0,320.5 145.0,318.1 149.0,313.2 153.0,304.0 157.0,293.4 161.0,283.8 165.0,271.1 169.0,255.6 173.0,239.3 177.0,223.2 181.0,197.3 185.0,185.9 189.0,172.2 193.0,156.0 197.0,142.2 201.0,123.3 205.0,110.7 209.0,100.2 213.0,88.7 217.0,77.4 221.0,71.0 225.0,59.4 229.0,57.5 233.0,48.0 237.0,48.9 241.0,103.0 245.0,49.5 249.0,55.7 253.0,86.0 257.0,55.8 261.0,57.9 265.0,63.8 269.0,70.5 273.0,78.1 277.0,88.7 281.0,99.0 285.0,113.1 289.0,122.7 293.0,138.6 297.0,152.7 301.0,166.5 305.0,175.1 309.0,203.5 313.0,215.5 317.0,230.3 321.0,243.1 325.0,259.3 329.0,268.7 333.0,289.3 337.0,294.9 341.0,308.0 345.0,314.6 349.0,318.9 353.0,320.5 357.0,320.5 361.0,320.5 365.0,320.5 369.0,320.5 373.0,320.5 377.0,320.5 381.0,320.5 385.0,320.5 389.0,320.5 393.0,320.5 397.0,320.5 401.0,320.5 405.0,320.5 409.0,320.5 413.0,320.5 417.0,320.5 421.0,320.5 425.0,320.5 429.0,320.5 433.0,320.5 437.0,320.5" stroke="#EDB120"/>
<polyline points="57.0,320.5 61.0,320.5 65.0,320.5 69.0,320.5 73.0,320.5 77.0,320.5 81.0,320.5 85.0,320.5 89.0,320.5 93.0,320.5 97.0,320.5 101.0,320.5 105.0,320.5 109.0,320.5 113.0,320.5 117.0,320.5 121.0,320.5 125.0,320.5 129.0,320.5 133.0,320.5 137.0,320.5 141.0,320.5 145.0,320.4 149.0,317.4 153.0,311.3 157.0,302.9 161.0,289.5 165.0,276.6 169.0,262.2 173.0,246.4 177.0,227.7 181.0,212.9 185.0,192.8 189.0,177.1 193.0,163.8 197.0,140.7 201.0,128.1 205.0,116.8 209.0,101.5 213.0,95.1 217.0,82.1 221.0,71.5 225.0,55.3 229.0,48.8 233.0,42.1 237.0,41.7 241.0,35.6 245.0,43.9 249.0,46.3 253.0,38.5 257.0,59.5 261.0,57.6 265.0,80.7 269.0,96.5 273.0,94.8 277.0,112.1 281.0,126.5 285.0,146.3 289.0,142.0 293.0,159.5 297.0,177.4 301.0,185.1 305.0,206.9 309.0,219.8 313.0,235.9 317.0,240.5 321.0,262.8 325.0,277.7 329.0,291.2 333.0,302.7 337.0,311.8 341.0,317.9 345.0,320.5 349.0,320.5 353.0,320.5 357.0,320.5 361.0,320.5 365.0,320.5 369.0,320.5 373.0,320.5 377.0,320.5 381.0,320.5 385.0,320.5 389.0,320.5 393.0,320.5 397.0,320.5 401.0,320.5 405.0,320.5 409.0,320.5 413.0,320.5 417.0,320.5 421.0,320.5 425.0,320.5 429.0,320.5 433.0,320.5 437.0,320.5" stroke="#0072BD"/>
<polyline points="57.0,320.5 61.0,320.5 65.0,320.5 69.0,320.5 73.0,320.5 77.0,320.5 81.0,320.5 85.0,320.5 89.0,320.5 93.0,320.5 97.0,320.5 101.0,320.5 105.0,320.5 109.0,320.5 113.0,320.5 117.0,320.5 121.0,320.5 125.0,320.5 129.0,320.5 133.0,320.5 137.0,320.5 141.0,320.0 145.0,316.3 149.0,315.9 153.0,312.4 157.0,299.1 161.0,295.6 165.0,291.4 169.0,280.6 173.0,269.3 177.0,270.4 181.0,264.5 185.0,260.4 189.0,251.7 193.0,244.5 197.0,222.8 201.0,223.7 205.0,213.1 209.0,195.8 213.0,156.0 217.0,148.9 221.0,106.6 225.0,80.3 229.0,62.3 233.0,63.9 237.0,56.0 241.0,65.2 245.0,55.3 249.0,60.1 253.0,59.3 257.0,64.6 261.0,70.1 265.0,71.9 269.0,85.8 273.0,94.2 277.0,99.0 281.0,116.0 285.0,120.7 289.0,134.7 293.0,152.2 297.0,168.8 301.0,185.9 305.0,186.1 309.0,213.1 313.0,226.6 317.0,235.9 321.0,251.5 325.0,266.1 329.0,279.3 333.0,291.6 337.0,302.1 341.0,310.3 345.0,316.2 349.0,319.9 353.0,320.5 357.0,320.5 361.0,320.5 365.0,320.5 369.0,320.5 373.0,320.5 377.0,320.5 381.0,320.5 385.0,320.5 389.0,320.5 393.0,320.5 397.0,320.5 401.0,320.5 405.0,320.5 409.0,320.5 413.0,320.5 417.0,320.5 421.0,320.5 425.0,320.5 429.0,320.5 433.0,320.5 437.0,320.5" stroke="#77AC30"/>
<polyline points="57.0,320.5 61.0,320.5 65.0,320.5 69.0,320.5 73.0,320.5 77.0,320.5 81.0,320.5 85.0,320.5 89.0,320.5 93.0,320.5 97.0,320.5 101.0,320.5 105.0,320.5 109.0,320.5 113.0,320.5 117.0,320.5 121.0,320.5 125.0,320.5 129.0,320.5 133.0,320.5 137.0,320.5 141.0,320.5 145.0,318.1 149.0,312.3 153.0,305.0 157.0,291.7 161.0,283.8 165.0,267.2 169.0,259.9 173.0,243.3 177.0,223.6 181.0,205.5 185.0,188.7 189.0,178.3 193.0,161.2 197.0,144.5 201.0,130.8 205.0,117.3 209.0,112.0 213.0,167.0 217.0,133.0 221.0,92.0 225.0,66.8 229.0,60.9 233.0,57.0 237.0,52.6 241.0,53.0 245.0,61.9 249.0,54.2 253.0,64.2 257.0,62.0 261.0,67.4 265.0,79.8 269.0,81.0 273.0,90.1 277.0,100.9 281.0,101.3 285.0,119.4 289.0,133.7 293.0,138.8 297.0,159.3 301.0,174.1 305.0,195.8 309.0,201.2 313.0,214.9 317.0,226.6 321.0,252.4 325.0,259.1 329.0,272.4 333.0,287.0 337.0,299.2 341.0,309.5 345.0,315.0 349.0,319.4 353.0,320.5 357.0,320.5 361.0,320.5 365.0,320.5 369.0,320.5 373.0,320.5 377.0,320.5 381.0,320.5 385.0,320.5 389.0,320.5 393.0,320.5 397.0,320.5 401.0,320.5 405.0,320.5 409.0,320.5 413.0,320.5 417.0,320.5 421.0,320.5 425.0,320.5 429.0,320.5 433.0,320.5 437.0,320.5" stroke="#7E2F8E"/>
<polyline points="57.0,320.5 61.0,320.5 65.0,320.5 69.0,320.5 73.0,320.5 77.0,320.5 81.0,320.5 85.0,320.5 89.0,320.5 93.0,320.5 97.0,320.5 101.0,320.5 105.0,320.5 109.0,320.5 113.0,320.5 117.0,320.5 121.0,320.5 125.0,320.5 129.0,320.5 133.0,320.5 137.0,319.8 141.0,316.1 145.0,310.3 149.0,302.1 153.0,289.1 157.0,278.3 161.0,263.3 165.0,251.1 169.0,238.1 173.0,219.3 177.0,200.3 181.0,187.4 185.0,175.3 189.0,157.9 193.0,143.6 197.0,127.8 201.0,112.4 205.0,97.9 209.0,90.8 213.0,82.4 217.0,72.4 221.0,65.2 225.0,60.4 229.0,54.8 233.0,51.9 237.0,53.4 241.0,49.1 245.0,52.3 249.0,55.7 253.0,55.0 257.0,61.5 261.0,61.2 265.0,70.8 269.0,79.5 273.0,90.4 277.0,99.4 281.0,107.4 285.0,123.2 289.0,132.5 293.0,153.3 297.0,162.0 301.0,175.4 305.0,191.9 309.0,208.3 313.0,221.3 317.0,241.2 321.0,256.4 325.0,267.9 329.0,279.5 333.0,292.8 337.0,303.6 341.0,311.6 345.0,317.4 349.0,320.3 353.0,320.5 357.0,320.5 361.0,320.5 365.0,320.5 369.0,320.5 373.0,320.5 377.0,320.5 381.0,320.5 385.0,320.5 389.0,320.5 393.0,320.5 397.0,320.5 401.0,320.5 405.0,320.5 409.0,320.5 413.0,320.5 417.0,320.5 421.0,320.5 425.0,320.5 429.0,320.5 433.0,320.5 437.0,320.5" stroke="#7E2F8E"/>
<polyline points="57.0,320.5 61.0,320.5 65.0,320.5 69.0,320.5 73.0,320.5 77.0,320.5 81.0,320.5 85.0,320.5 89.0,320.5 93.0,320.5 97.0,320.5 101.0,320.5 105.0,320.5 109.0,320.5 113.0,320.5 117.0,320.5 121.0,320.5 125.0,320.5 129.0,320.5 133.0,320.5 137.0,320.5 141.0,320.5 145.0,318.6 149.0,313.0 153.0,305.6 157.0,294.6 161.0,288.4 165.0,269.7 169.0,257.6 173.0,241.0 177.0,230.2 181.0,211.1 185.0,189.5 189.0,173.2 193.0,156.5 197.0,140.8 201.0,125.1 205.0,113.9 209.0,103.4 213.0,93.0 217.0,82.0 221.0,75.0 225.0,67.5 229.0,58.1 233.0,60.8 237.0,55.1 241.0,52.4 245.0,47.6 249.0,98.0 253.0,84.0 257.0,112.0 261.0,95.0 265.0,122.0 269.0,110.0 273.0,84.6 277.0,91.8 281.0,100.9 285.0,110.9 289.0,128.4 293.0,135.3 297.0,151.0 301.0,172.1 305.0,186.9 309.0,205.5 313.0,221.5 317.0,232.8 321.0,244.2 325.0,259.4 329.0,277.7 333.0,291.4 337.0,302.4 341.0,310.2 345.0,316.9 349.0,320.2 353.0,320.5 357.0,320.5 361.0,320.5 365.0,320.5 369.0,320.5 373.0,320.5 377.0,320.5 381.0,320.5 385.0,320.5 389.0,320.5 393.0,320.5 397.0,320.5 401.0,320.5 405.0,320.5 409.0,320.5 413.0,320.5 417.0,320.5 421.0,320.5 425.0,320.5 429.0,320.5 433.0,320.5 437.0,320.5" stroke="#4DBEEE"/>
<polyline points="57.0,320.5 61.0,320.5 65.0,320.5 69.0,320.5 73.0,320.5 77.0,320.5 81.0,320.5 85.0,320.5 89.0,320.5 93.0,320.5 97.0,320.5 101.0,320.5 105.0,320.5 109.0,320.5 113.0,320.5 117.0,320.5 121.0,320.5 125.0,320.5 129.0,320.5 133.0,320.5 137.0,320.5 141.0,320.5 145.0,320.4 149.0,316.3 153.0,307.1 157.0,300.4 161.0,285.6 165.0,260.6 169.0,247.5 173.0,230.5 177.0,224.4 181.0,204.1 185.0,167.5 189.0,151.3 193.0,137.8 197.0,122.0 201.0,117.2 205.0,86.5 209.0,69.7 213.0,60.3 217.0,58.5 221.0,55.3 225.0,61.3 229.0,33.3 233.0,36.4 237.0,48.3 241.0,46.0 245.0,48.9 249.0,54.1 253.0,62.7 257.0,63.2 261.0,66.7 265.0,80.4 269.0,87.2 273.0,100.3 277.0,101.2 281.0,115.0 285.0,128.8 289.0,142.9 293.0,157.7 297.0,170.4 301.0,185.8 305.0,200.6 309.0,215.0 313.0,229.4 317.0,239.9 321.0,262.9 325.0,271.4 329.0,285.4 333.0,296.8 337.0,306.4 341.0,312.3 345.0,317.9 349.0,320.4 353.0,320.5 357.0,320.5 361.0,320.5 365.0,320.5 369.0,320.5 373.0,320.5 377.0,320.5 381.0,320.5 385.0,320.5 389.0,320.5 393.0,320.5 397.0,320.5 401.0,320.5 405.0,320.5 409.0,320.5 413.0,320.5 417.0,320.5 421.0,320.5 425.0,320.5 429.0,320.5 433.0,320.5 437.0,320.5" stroke="#D95319"/>
<polyline points="57.0,320.5 61.0,320.5 65.0,320.5 69.0,320.5 73.0,320.5 77.0,320.5 81.0,320.5 85.0,320.5 89.0,320.5 93.0,320.5 97.0,320.5 101.0,320.5 105.0,320.5 109.0,320.5 113.0,320.5 117.0,320.5 121.0,320.5 125.0,320.5 129.0,320.5 133.0,320.5 137.0,320.5 141.0,320.5 145.0,319.5 149.0,314.5 153.0,307.7 157.0,298.7 161.0,285.9 165.0,273.0 169.0,254.6 173.0,242.5 177.0,229.4 181.0,216.5 185.0,191.1 189.0,172.0 193.0,158.7 197.0,146.7 201.0,129.9 205.0,115.3 209.0,98.8 213.0,89.3 217.0,74.1 221.0,70.1 225.0,118.0 229.0,150.0 233.0,104.0 237.0,96.0 241.0,40.7 245.0,47.3 249.0,43.0 253.0,59.5 257.0,50.7 261.0,60.0 265.0,65.4 269.0,71.0 273.0,88.5 277.0,93.7 281.0,99.2 285.0,105.0 289.0,127.7 293.0,130.9 297.0,150.0 301.0,163.3 305.0,186.0 309.0,195.6 313.0,216.8 317.0,233.8 321.0,239.8 325.0,261.9 329.0,274.7 333.0,284.6 337.0,298.5 341.0,308.0 345.0,314.2 349.0,319.0 353.0,320.5 357.0,320.5 361.0,320.5 365.0,320.5 369.0,320.5 373.0,320.5 377.0,320.5 381.0,320.5 385.0,320.5 389.0,320.5 393.0,320.5 397.0,320.5 401.0,320.5 405.0,320.5 409.0,320.5 413.0,320.5 417.0,320.5 421.0,320.5 425.0,320.5 429.0,320.5 433.0,320.5 437.0,320.5" stroke="#7E2F8E"/>
<polyline points="57.0,320.5 61.0,320.5 65.0,320.5 69.0,320.5 73.0,320.5 77.0,320.5 81.0,320.5 85.0,320.5 89.0,320.5 93.0,320.5 97.0,320.5 101.0,320.5 105.0,320.5 109.0,320.5 113.0,320.5 117.0,320.5 121.0,320.5 125.0,320.5 129.0,320.5 133.0,320.5 137.0,320.5 141.0,320.5 145.0,320.5 149.0,319.0 153.0,313.9 157.0,306.0 161.0,295.0 165.0,282.7 169.0,270.7 173.0,254.3 177.0,239.9 181.0,221.7 185.0,202.3 189.0,186.9 193.0,170.8 197.0,156.3 201.0,132.8 205.0,123.4 209.0,113.2 213.0,98.7 217.0,82.1 221.0,68.5 225.0,62.6 229.0,61.9 233.0,52.4 237.0,58.5 241.0,47.7 245.0,51.7 249.0,60.7 253.0,56.1 257.0,85.8 261.0,106.8 265.0,111.5 269.0,145.5 273.0,146.7 277.0,149.7 281.0,147.1 285.0,147.0 289.0,163.1 293.0,182.3 297.0,191.9 301.0,196.8 305.0,199.6 309.0,216.9 313.0,229.3 317.0,247.1 321.0,259.6 325.0,274.3 329.0,287.7 333.0,299.4 337.0,309.0 341.0,316.1 345.0,320.0 349.0,320.5 353.0,320.5 357.0,320.5 361.0,320.5 365.0,320.5 369.0,320.5 373.0,320.5 377.0,320.5 381.0,320.5 385.0,320.5 389.0,320.5 393.0,320.5 397.0,320.5 401.0,320.5 405.0,320.5 409.0,320.5 413.0,320.5 417.0,320.5 421.0,320.5 425.0,320.5 429.0,320.5 433.0,320.5 437.0,320.5" stroke="#0072BD"/>
<polyline points="57.0,320.5 61.0,320.5 65.0,320.5 69.0,320.5 73.0,320.5 77.0,320.5 81.0,320.5 85.0,320.5 89.0,320.5 93.0,320.5 97.0,320.5 101.0,320.5 105.0,320.5 109.0,320.5 113.0,320.5 117.0,320.5 121.0,320.5 125.0,320.5 129.0,320.5 133.0,320.5 137.0,318.2 141.0,315.1 145.0,312.0 149.0,307.2 153.0,302.4 157.0,296.8 161.0,290.4 165.0,284.0 169.0,276.8 173.0,269.6 177.0,262.0 181.0,254.0 185.0,246.0 189.0,238.0 193.0,245.4 197.0,274.9 201.0,276.8 205.0,275.4 209.0,274.7 213.0,261.2 217.0,260.2 221.0,265.7 225.0,257.5 229.0,249.4 233.0,235.3 237.0,207.4 241.0,182.4 245.0,175.3 249.0,182.6 253.0,166.8 257.0,165.1 261.0,157.6 265.0,145.0 269.0,136.2 273.0,148.9 277.0,162.1 281.0,154.9 285.0,150.0 289.0,145.9 293.0,150.4 297.0,161.0 301.0,173.0 305.0,185.0 309.0,197.0 313.0,209.0 317.0,221.8 321.0,236.3 325.0,251.5 329.0,263.6 333.0,276.6 337.0,288.2 341.0,298.2 345.0,307.0 349.0,313.4 353.0,317.8 357.0,320.5 361.0,320.5 365.0,320.5 369.0,320.5 373.0,320.5 377.0,320.5 381.0,320.5 385.0,320.5 389.0,320.5 393.0,320.5 397.0,320.5 401.0,320.5 405.0,320.5 409.0,320.5 413.0,320.5 417.0,320.5 421.0,320.5 425.0,320.5 429.0,320.5 433.0,320.5 437.0,320.5" stroke="#A2142F"/>
<polyline points="57.0,320.5 61.0,320.5 65.0,320.5 69.0,320.5 73.0,320.5 77.0,320.5 81.0,320.5 85.0,320.5 89.0,320.5 93.0,320.5 97.0,320.5 101.0,320.5 105.0,320.5 109.0,320.5 113.0,320.5 117.0,320.5 121.0,320.5 125.0,320.5 129.0,320.5 133.0,320.5 137.0,320.5 141.0,320.5 145.0,319.2 149.0,314.5 153.0,307.3 157.0,297.7 161.0,286.1 165.0,267.9 169.0,259.5 173.0,238.5 177.0,232.3 181.0,214.8 185.0,194.8 189.0,183.9 193.0,156.9 197.0,146.6 201.0,131.5 205.0,121.3 209.0,105.4 213.0,98.5 217.0,81.3 221.0,73.1 225.0,73.7 229.0,69.1 233.0,68.0 237.0,65.9 241.0,55.5 245.0,57.9 249.0,56.5 253.0,63.0 257.0,65.3 261.0,70.9 265.0,81.2 269.0,85.7 273.0,140.0 277.0,160.0 281.0,180.0 285.0,190.0 289.0,198.0 293.0,190.0 297.0,200.0 301.0,178.3 305.0,193.5 309.0,204.3 313.0,224.5 317.0,235.3 321.0,251.8 325.0,265.7 329.0,279.5 333.0,292.5 337.0,301.9 341.0,310.6 345.0,316.3 349.0,319.8 353.0,320.5 357.0,320.5 361.0,320.5 365.0,320.5 369.0,320.5 373.0,320.5 377.0,320.5 381.0,320.5 385.0,320.5 389.0,320.5 393.0,320.5 397.0,320.5 401.0,320.5 405.0,320.5 409.0,320.5 413.0,320.5 417.0,320.5 421.0,320.5 425.0,320.5 429.0,320.5 433.0,320.5 437.0,320.5" stroke="#7E2F8E"/>
<polyline points="57.0,320.5 61.0,320.5 65.0,320.5 69.0,320.5 73.0,320.5 77.0,320.5 81.0,320.5 85.0,320.5 89.0,320.5 93.0,320.5 97.0,320.5 101.0,320.5 105.0,320.5 109.0,320.5 113.0,320.5 117.0,320.5 121.0,320.5 125.0,320.5 129.0,320.5 133.0,320.5 137.0,320.5 141.0,320.5 145.0,318.9 149.0,313.4 153.0,305.9 157.0,298.2 161.0,283.5 165.0,270.2 169.0,260.1 173.0,242.4 177.0,224.4 181.0,197.7 185.0,187.1 189.0,164.7 193.0,151.7 197.0,135.5 201.0,121.7 205.0,116.5 209.0,93.5 213.0,140.0 217.0,181.0 221.0,100.0 225.0,55.3 229.0,51.7 233.0,45.8 237.0,49.1 241.0,50.7 245.0,48.6 249.0,45.7 253.0,54.0 257.0,59.6 261.0,69.4 265.0,73.7 269.0,78.6 273.0,84.2 277.0,93.9 281.0,107.2 285.0,118.0 289.0,125.2 293.0,137.4 297.0,153.8 301.0,167.1 305.0,183.2 309.0,196.2 313.0,223.1 317.0,235.5 321.0,247.6 325.0,261.4 329.0,272.5 333.0,292.0 337.0,299.0 341.0,308.0 345.0,315.3 349.0,319.3 353.0,320.5 357.0,320.5 361.0,320.5 365.0,320.5 369.0,320.5 373.0,320.5 377.0,320.5 381.0,320.5 385.0,320.5 389.0,320.5 393.0,320.5 397.0,320.5 401.0,320.5 405.0,320.5 409.0,320.5 413.0,320.5 417.0,320.5 421.0,320.5 425.0,320.5 429.0,320.5 433.0,320.5 437.0,320.5" stroke="#77AC30"/>
<polyline points="57.0,320.5 61.0,320.5 65.0,320.5 69.0,320.5 73.0,320.5 77.0,320.5 81.0,320.5 85.0,320.5 89.0,320.5 93.0,320.5 97.0,320.5 101.0,320.5 105.0,320.5 109.0,320.5 113.0,320.5 117.0,320.5 121.0,320.5 125.0,320.5 129.0,320.5 133.0,320.5 137.0,320.5 141.0,320.2 145.0,316.2 149.0,309.7 153.0,298.5 157.0,289.7 161.0,270.7 165.0,255.1 169.0,239.9 173.0,227.0 177.0,205.6 181.0,192.3 185.0,176.8 189.0,150.7 193.0,143.2 197.0,113.9 201.0,102.7 205.0,111.9 209.0,81.5 213.0,86.6 217.0,65.5 221.0,58.3 225.0,75.4 229.0,51.2 233.0,48.0 237.0,37.1 241.0,50.9 245.0,41.5 249.0,46.2 253.0,46.5 257.0,50.8 261.0,50.8 265.0,58.6 269.0,63.1 273.0,74.6 277.0,84.4 281.0,95.9 285.0,111.4 289.0,124.2 293.0,136.2 297.0,155.3 301.0,170.5 305.0,187.8 309.0,203.7 313.0,222.7 317.0,239.2 321.0,254.7 325.0,270.4 329.0,285.7 333.0,296.4 337.0,308.0 341.0,315.3 345.0,319.7 349.0,320.5 353.0,320.5 357.0,320.5 361.0,320.5 365.0,320.5 369.0,320.5 373.0,320.5 377.0,320.5 381.0,320.5 385.0,320.5 389.0,320.5 393.0,320.5 397.0,320.5 401.0,320.5 405.0,320.5 409.0,320.5 413.0,320.5 417.0,320.5 421.0,320.5 425.0,320.5 429.0,320.5 433.0,320.5 437.0,320.5" stroke="#A2142F"/>
<polyline points="57.0,320.5 61.0,320.5 65.0,320.5 69.0,320.5 73.0,320.5 77.0,320.5 81.0,320.5 85.0,320.5 89.0,320.5 93.0,320.5 97.0,320.5 101.0,320.5 105.0,320.5 109.0,320.5 113.0,320.5 117.0,320.5 121.0,320.5 125.0,320.5 129.0,320.5 133.0,320.5 137.0,319.3 141.0,314.7 145.0,308.1 149.0,298.3 153.0,286.4 157.0,277.3 161.0,255.9 165.0,247.4 169.0,236.6 173.0,215.0 177.0,192.6 181.0,183.0 185.0,166.8 189.0,144.7 193.0,134.4 197.0,125.3 201.0,108.6 205.0,89.9 209.0,82.1 213.0,72.0 217.0,62.4 221.0,56.7 225.0,53.7 229.0,52.8 233.0,45.4 237.0,48.4 241.0,46.2 245.0,42.9 249.0,48.2 253.0,52.9 257.0,57.5 261.0,61.6 265.0,68.2 269.0,81.9 273.0,87.6 277.0,94.3 281.0,108.2 285.0,124.5 289.0,137.7 293.0,155.2 297.0,167.0 301.0,176.3 305.0,196.1 309.0,213.8 313.0,228.9 317.0,243.1 321.0,258.0 325.0,272.5 329.0,285.9 333.0,295.7 337.0,305.2 341.0,313.8 345.0,318.7 349.0,320.5 353.0,320.5 357.0,320.5 361.0,320.5 365.0,320.5 369.0,320.5 373.0,320.5 377.0,320.5 381.0,320.5 385.0,320.5 389.0,320.5 393.0,320.5 397.0,320.5 401.0,320.5 405.0,320.5 409.0,320.5 413.0,320.5 417.0,320.5 421.0,320.5 425.0,320.5 429.0,320.5 433.0,320.5 437.0,320.5" stroke="#A2142F"/>
<polyline points="57.0,320.5 61.0,320.5 65.0,320.5 69.0,320.5 73.0,320.5 77.0,320.5 81.0,320.5 85.0,320.5 89.0,320.5 93.0,320.5 97.0,320.5 101.0,320.5 105.0,320.5 109.0,320.5 113.0,320.5 117.0,320.5 121.0,320.5 125.0,320.5 129.0,320.5 133.0,320.5 137.0,320.2 141.0,317.8 145.0,310.5 149.0,304.4 153.0,297.6 157.0,286.3 161.0,270.9 165.0,253.2 169.0,242.0 173.0,232.9 177.0,203.8 181.0,194.3 185.0,172.5 189.0,158.6 193.0,149.2 197.0,130.0 201.0,123.9 205.0,105.9 209.0,107.8 213.0,98.6 217.0,86.0 221.0,70.4 225.0,65.9 229.0,65.3 233.0,61.2 237.0,59.1 241.0,55.3 245.0,52.3 249.0,54.1 253.0,60.9 257.0,63.9 261.0,66.3 265.0,78.4 269.0,81.5 273.0,87.6 277.0,97.5 281.0,111.3 285.0,124.1 289.0,136.9 293.0,141.5 297.0,160.6 301.0,179.8 305.0,197.5 309.0,205.4 313.0,215.2 317.0,236.9 321.0,254.0 325.0,262.2 329.0,279.0 333.0,290.6 337.0,300.6 341.0,309.9 345.0,315.9 349.0,319.8 353.0,320.5 357.0,320.5 361.0,320.5 365.0,320.5 369.0,320.5 373.0,320.5 377.0,320.5 381.0,320.5 385.0,320.5 389.0,320.5 393.0,320.5 397.0,320.5 401.0,320.5 405.0,320.5 409.0,320.5 413.0,320.5 417.0,320.5 421.0,320.5 425.0,320.5 429.0,320.5 433.0,320.5 437.0,320.5" stroke="#A2142F"/>
</g>
<polyline points="57.00,320.50 61.00,320.50 65.00,320.50 69.00,320.50 73.00,320.50 77.00,320.50 81.00,320.50 85.00,320.50 89.00,320.50 93.00,320.50 97.00,320.50 101.00,320.50 105.00,320.50 109.00,320.50 113.00,320.50 117.00,320.50 121.00,320.50 125.00,320.50 129.00,320.50 133.00,320.08 137.00,318.37 141.00,315.62 145.00,312.12 149.00,306.62 153.00,297.53 157.00,289.21 161.00,278.01 165.00,257.93 169.00,249.16 173.00,234.53 177.00,220.70 181.00,212.23 185.00,192.71 189.00,172.34 193.00,160.29 197.00,151.26 201.00,143.89 205.00,124.52 209.00,114.68 213.00,108.48 217.00,92.67 221.00,84.17 225.00,81.11 229.00,78.81 233.00,75.67 237.00,71.87 241.00,68.52 245.00,66.77 249.00,67.21 253.00,69.04 257.00,71.88 261.00,75.38 265.00,82.13 269.00,90.48 273.00,96.15 277.00,102.16 281.00,115.79 285.00,128.33 289.00,133.13 293.00,141.08 297.00,158.92 301.00,167.60 305.00,184.97 309.00,198.73 313.00,207.10 317.00,230.17 321.00,240.42 325.00,266.31 329.00,277.29 333.00,292.62 337.00,302.25 341.00,308.98 345.00,313.32 349.00,316.21 353.00,318.59 357.00,320.12 361.00,320.50 365.00,320.50 369.00,320.50 373.00,320.50 377.00,320.50 381.00,320.50 385.00,320.50 389.00,320.50 393.00,320.50 397.00,320.50 401.00,320.50 405.00,320.50 409.00,320.50 413.00,320.50 417.00,320.50 421.00,320.50 425.00,320.50 429.00,320.50 433.00,320.50 437.00,320.50" fill="none" stroke="#FF0000" stroke-width="4.8" stroke-dasharray="18.5 17.8"/>
<g>
<text x="53.0" y="338.4" text-anchor="middle">0</text>
<text x="93.0" y="338.4" text-anchor="middle">10</text>
<text x="133.0" y="338.4" text-anchor="middle">20</text>
<text x="173.0" y="338.4" text-anchor="middle">30</text>
<text x="213.0" y="338.4" text-anchor="middle">40</text>
<text x="253.0" y="338.4" text-anchor="middle">50</text>
<text x="293.0" y="338.4" text-anchor="middle">60</text>
<text x="333.0" y="338.4" text-anchor="middle">70</text>
<text x="373.0" y="338.4" text-anchor="middle">80</text>
<text x="413.0" y="338.4" text-anchor="middle">90</text>
<text x="453.0" y="338.4" text-anchor="middle">100</text>
<text x="47.6" y="325.1" text-anchor="end">0</text>
<text x="47.6" y="263.2" text-anchor="end">0.05</text>
<text x="47.6" y="201.3" text-anchor="end">0.1</text>
<text x="47.6" y="139.4" text-anchor="end">0.15</text>
<text x="47.6" y="77.5" text-anchor="end">0.2</text>
<text x="47.6" y="15.6" text-anchor="end">0.25</text>
</g>
<text x="251.5" y="355.9" text-anchor="middle" class="lab">Time instant (15 minutes)</text>
<text transform="translate(15.3,167.5) rotate(-90)" text-anchor="middle" class="lab" style="font-size:13.3px">Solar Power (kW)</text>
</svg>
</body></html>
